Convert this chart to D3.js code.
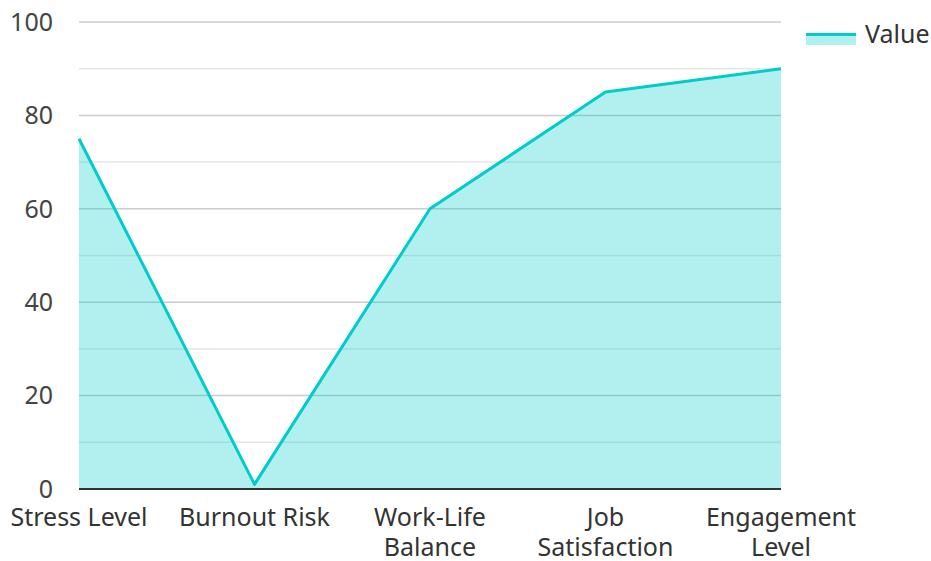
<!DOCTYPE html>
<html lang="en">
<head>
  <meta charset="UTF-8" />
  <title>Value</title>
  <script src="https://d3js.org/d3.v7.min.js"></script>
  <style>
    body { margin: 0; background: #fff; font-family: "Noto Sans", sans-serif; }
    svg { display: block; }
  </style>
</head>
<body>
  <div id="chart"></div>
  <script>
    const categories = ["Stress Level", "Burnout Risk", "Work-Life Balance", "Job Satisfaction", "Engagement Level"];
    const labelLines = [["Stress Level"], ["Burnout Risk"], ["Work-Life", "Balance"], ["Job", "Satisfaction"], ["Engagement", "Level"]];
    const values = [75, 1, 60, 85, 90];
    const yTicks = [0, 20, 40, 60, 80, 100];
    const minorTicks = [10, 30, 50, 70, 90];

    const W = 931, H = 561;
    const margin = { top: 22, right: 150, bottom: 72, left: 79 };
    const width = W - margin.left - margin.right;
    const height = H - margin.top - margin.bottom;

    const svg = d3.select("#chart").append("svg")
      .attr("width", W).attr("height", H);
    const g = svg.append("g").attr("transform", `translate(${margin.left},${margin.top})`);

    const x = d3.scalePoint().domain(categories).range([0, width]);
    const y = d3.scaleLinear().domain([0, 100]).range([height, 0]);

    // grid
    g.selectAll(".minor").data(minorTicks).join("line")
      .attr("x1", 0).attr("x2", width)
      .attr("y1", d => y(d)).attr("y2", d => y(d))
      .attr("stroke", "#e6e6e6").attr("stroke-width", 1.5);
    g.selectAll(".major").data(yTicks.filter(d => d > 0)).join("line")
      .attr("x1", 0).attr("x2", width)
      .attr("y1", d => y(d)).attr("y2", d => y(d))
      .attr("stroke", "#cccccc").attr("stroke-width", 1.5);

    const pts = categories.map((c, i) => ({ c, v: values[i] }));

    g.append("path").datum(pts)
      .attr("fill", "rgba(0,204,204,0.3)")
      .attr("d", d3.area().x(d => x(d.c)).y0(y(0)).y1(d => y(d.v)));

    g.append("path").datum(pts)
      .attr("fill", "none")
      .attr("stroke", "#00cccc")
      .attr("stroke-width", 3)
      .attr("stroke-linejoin", "round")
      .attr("d", d3.line().x(d => x(d.c)).y(d => y(d.v)));

    // x axis line
    g.append("line")
      .attr("x1", 0).attr("x2", width)
      .attr("y1", height).attr("y2", height)
      .attr("stroke", "#333").attr("stroke-width", 2);

    // y labels
    g.selectAll(".ylab").data(yTicks).join("text")
      .attr("x", -26).attr("y", d => y(d))
      .attr("dy", "0.35em")
      .attr("text-anchor", "end")
      .attr("fill", "#444")
      .style("font-size", "25px")
      .text(d => d);

    // x labels
    const xl = g.selectAll(".xlab").data(categories).join("text")
      .attr("text-anchor", "middle")
      .attr("fill", "#333")
      .style("font-size", "25px")
      .attr("transform", d => `translate(${x(d)},${height + 37})`);
    xl.each(function (d, i) {
      d3.select(this).selectAll("tspan").data(labelLines[i]).join("tspan")
        .attr("x", 0).attr("dy", (t, j) => j === 0 ? 0 : 30).text(t => t);
    });

    // legend
    const lg = svg.append("g").attr("transform", "translate(806,33)");
    lg.append("rect").attr("x", 0).attr("y", 0).attr("width", 50).attr("height", 12)
      .attr("fill", "rgba(0,204,204,0.3)");
    lg.append("line").attr("x1", 0).attr("x2", 50).attr("y1", 1.5).attr("y2", 1.5)
      .attr("stroke", "#00cccc").attr("stroke-width", 3);
    lg.append("text").attr("x", 59).attr("y", 1).attr("dy", "0.35em")
      .attr("fill", "#333").style("font-size", "25px").text("Value");
  </script>
</body>
</html>
